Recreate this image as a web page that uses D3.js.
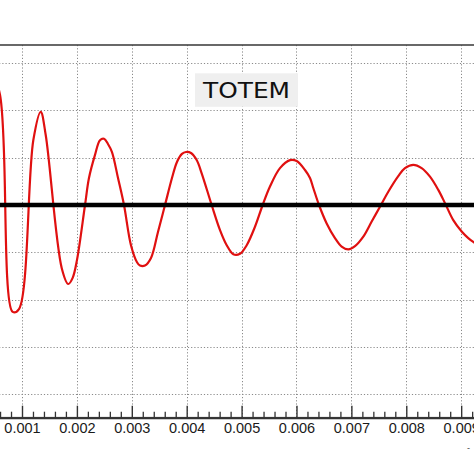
<!DOCTYPE html>
<html>
<head>
<meta charset="utf-8">
<script src="https://cdn.jsdelivr.net/npm/d3@7"></script>
<style>
  html, body { margin: 0; padding: 0; background: #ffffff; }
  svg { display: block; }
</style>
</head>
<body>
<svg id="chart" width="474" height="474"></svg>
<script>
// ---- data ----
const timeValues = [
  0.000381, 0.000599, 0.000831, 0.000945, 0.001206, 0.001341, 0.001432,
  0.001723, 0.001843, 0.001923, 0.002002, 0.002148, 0.002220, 0.002330,
  0.002421, 0.002494, 0.002566, 0.002639, 0.002749, 0.002858, 0.002985,
  0.003095, 0.003149, 0.003240, 0.003350, 0.003477, 0.003605, 0.003732,
  0.003823, 0.003914, 0.003987, 0.004078, 0.004182, 0.004273, 0.004455,
  0.004607, 0.004729, 0.004849, 0.004971, 0.005093, 0.005244, 0.005384,
  0.005517, 0.005699, 0.005882, 0.006004, 0.006155, 0.006246, 0.006306,
  0.006410, 0.006550, 0.006701, 0.006823, 0.006944, 0.007066, 0.007217,
  0.007370, 0.007539, 0.007672, 0.007854, 0.007976, 0.008128, 0.008280,
  0.008432, 0.008583, 0.008705, 0.008856, 0.009009, 0.009129, 0.009220,
  0.009342
];
const signalValues = [
  3.07, 2.33, -2.26, -2.20, 1.37, 1.97, 1.48,
  -1.33, -1.67, -1.54, -1.16, 0.00, 0.57, 1.06,
  1.37, 1.40, 1.29, 1.12, 0.57, 0.00, -0.85,
  -1.21, -1.28, -1.28, -1.12, -0.57, 0.00, 0.57,
  0.91, 1.08, 1.12, 1.10, 0.95, 0.67, 0.00,
  -0.53, -0.85, -1.04, -1.03, -0.85, -0.46, 0.00,
  0.39, 0.78, 0.95, 0.93, 0.74, 0.57, 0.36,
  0.00, -0.39, -0.70, -0.88, -0.94, -0.87, -0.67,
  -0.35, 0.00, 0.28, 0.61, 0.78, 0.85, 0.78,
  0.60, 0.32, 0.04, -0.32, -0.56, -0.70, -0.78,
  -0.87
];
const xMajorTicks = [0.001, 0.002, 0.003, 0.004, 0.005, 0.006, 0.007, 0.008, 0.009];
const xTickLabels = ["0.001", "0.002", "0.003", "0.004", "0.005", "0.006", "0.007", "0.008", "0.009"];
const xMinorTicks = [
  0.0002, 0.0004, 0.0006, 0.0008, 0.0012, 0.0014, 0.0016, 0.0018,
  0.0022, 0.0024, 0.0026, 0.0028, 0.0032, 0.0034, 0.0036, 0.0038,
  0.0042, 0.0044, 0.0046, 0.0048, 0.0052, 0.0054, 0.0056, 0.0058,
  0.0062, 0.0064, 0.0066, 0.0068, 0.0072, 0.0074, 0.0076, 0.0078,
  0.0082, 0.0084, 0.0086, 0.0088, 0.0092
];
const yGridValues = [-4, -3, -2, -1, 0, 1, 2, 3];
const xDomain = [0, 0.00927];
const yDomain = [-4.497, 3.383];
const titleText = "TOTEM";
const titleCenterT = 0.00509;
const axisTitleFragment = "-";

// ---- layout ----
const svg = d3.select("#chart");
const plot = { left: -32.9, right: 476, top: 45, bottom: 417.7 };

const x = d3.scaleLinear().domain(xDomain).range([plot.left, plot.right]);
const y = d3.scaleLinear().domain(yDomain).range([plot.bottom, plot.top]);

svg.append("defs").append("clipPath").attr("id", "clip")
  .append("rect")
  .attr("x", plot.left).attr("y", plot.top)
  .attr("width", plot.right - plot.left).attr("height", plot.bottom - plot.top);

// grid
const grid = svg.append("g").attr("stroke", "#8a8a8a").attr("stroke-width", 1)
  .attr("stroke-dasharray", "1.2,2");
grid.selectAll(".vg").data(xMajorTicks).join("line")
  .attr("x1", d => Math.round(x(d)) + 0.5).attr("x2", d => Math.round(x(d)) + 0.5)
  .attr("y1", plot.top).attr("y2", plot.bottom);
grid.selectAll(".hg").data(yGridValues).join("line")
  .attr("x1", plot.left).attr("x2", plot.right)
  .attr("y1", d => Math.round(y(d)) + 0.5).attr("y2", d => Math.round(y(d)) + 0.5);

// title box
const boxW = 103, boxH = 33.5;
const boxX = x(titleCenterT) - boxW / 2;
svg.append("rect")
  .attr("x", boxX).attr("y", 73.3).attr("width", boxW).attr("height", boxH)
  .attr("fill", "#efefef");
svg.append("text")
  .attr("x", boxX + boxW / 2).attr("y", 97.7)
  .attr("text-anchor", "middle")
  .attr("font-family", "'DejaVu Sans', sans-serif")
  .attr("font-size", 22)
  .attr("textLength", 87).attr("lengthAdjust", "spacingAndGlyphs")
  .attr("fill", "#111")
  .text(titleText);

// curve
const pts = timeValues.map((t, i) => [t, signalValues[i]]);
const line = d3.line().x(d => x(d[0])).y(d => y(d[1])).curve(d3.curveCatmullRom.alpha(0.5));
svg.append("path")
  .attr("clip-path", "url(#clip)")
  .attr("d", line(pts))
  .attr("fill", "none")
  .attr("stroke", "#e01010")
  .attr("stroke-width", 2.2)
  .attr("stroke-linejoin", "round");

// zero line
svg.append("line")
  .attr("x1", 0).attr("x2", 474)
  .attr("y1", y(0)).attr("y2", y(0))
  .attr("stroke", "#000").attr("stroke-width", 4.5);

// frame
svg.append("rect")
  .attr("x", plot.left).attr("y", plot.top)
  .attr("width", plot.right - plot.left).attr("height", plot.bottom - plot.top)
  .attr("fill", "none").attr("stroke", "#444").attr("stroke-width", 1.6);

// axis: minor ticks
const minorAxis = d3.axisBottom(x).tickValues(xMinorTicks).tickSize(-6).tickSizeOuter(0).tickFormat("");
const gMinor = svg.append("g").attr("transform", `translate(0,${plot.bottom})`).call(minorAxis);
gMinor.select(".domain").remove();
gMinor.selectAll("line").attr("stroke", "#333").attr("stroke-width", 1.3);

// axis: major ticks
const majorAxis = d3.axisBottom(x).tickValues(xMajorTicks).tickSize(-12).tickSizeOuter(0)
  .tickPadding(5).tickFormat((d, i) => xTickLabels[i]);
const gMajor = svg.append("g").attr("transform", `translate(0,${plot.bottom})`).call(majorAxis);
gMajor.select(".domain").attr("stroke", "#333").attr("stroke-width", 2);
gMajor.selectAll("line").attr("stroke", "#333").attr("stroke-width", 1.4);
gMajor.selectAll("text")
  .attr("font-family", "'Liberation Sans', Arial, sans-serif")
  .attr("font-size", 14.5)
  .attr("fill", "#1a1a1a");

// fragment of the axis title at the right edge
svg.append("text")
  .attr("x", 467).attr("y", 451)
  .attr("font-family", "'Liberation Sans', Arial, sans-serif")
  .attr("font-size", 9)
  .attr("fill", "#444")
  .text(axisTitleFragment);
</script>
</body>
</html>
